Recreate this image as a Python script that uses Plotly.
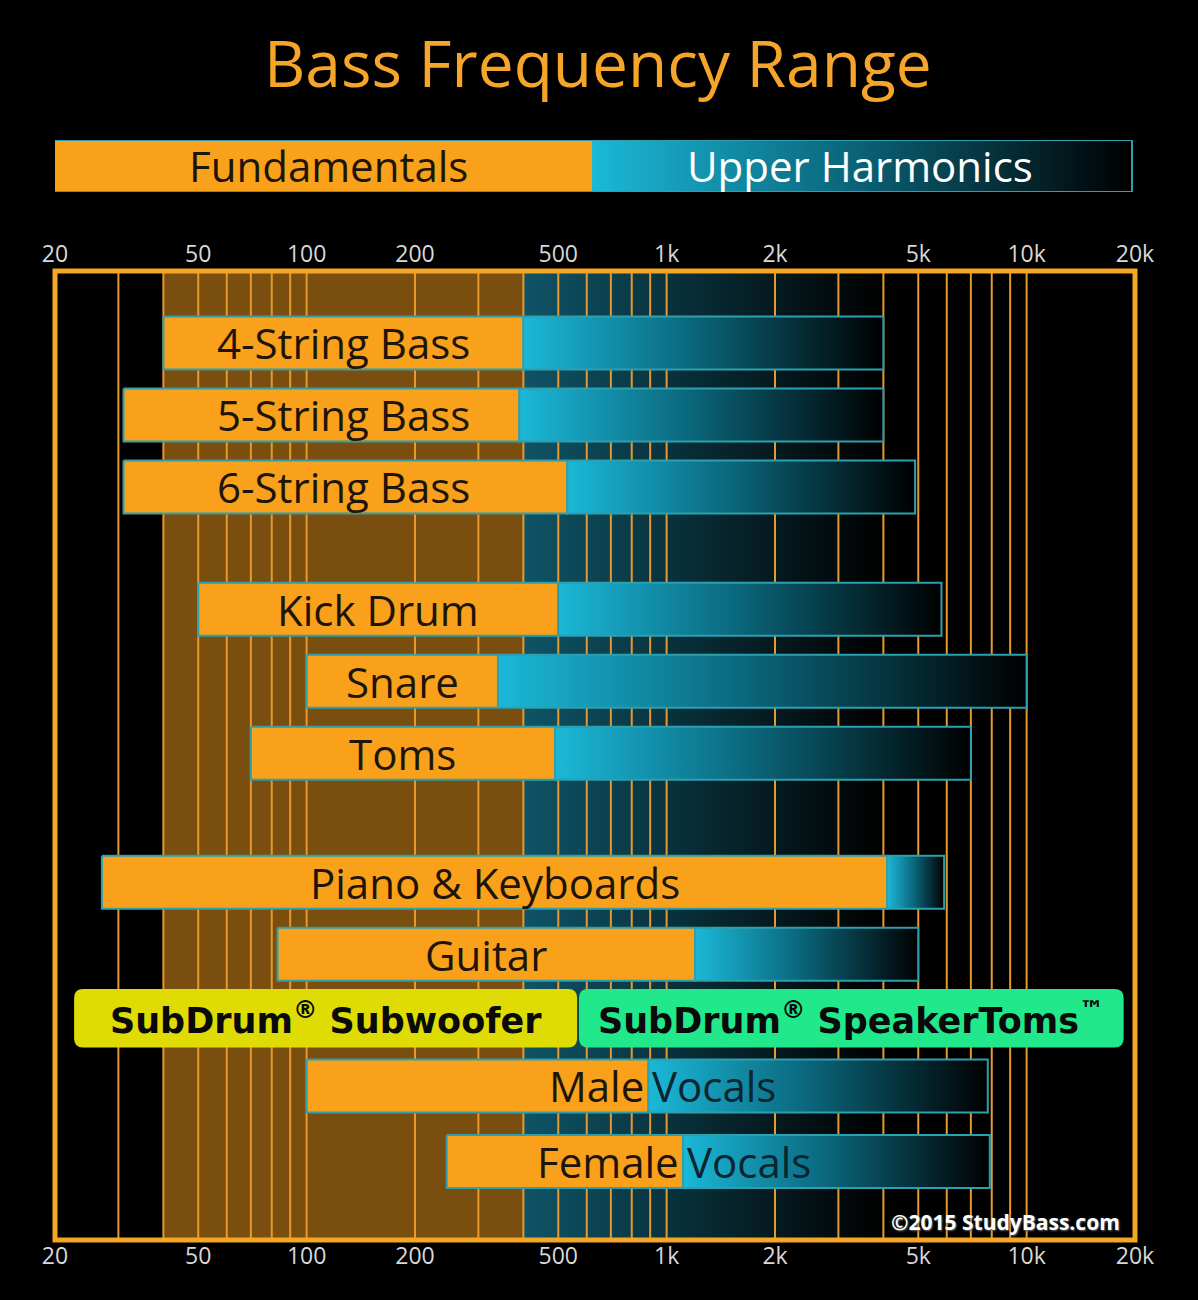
import numpy as np
import plotly.graph_objects as go

# instrument ranges in Hz: fundamentals from fund_low to fund_high, harmonics up to harm_high
instruments = ['4-String Bass', '5-String Bass', '6-String Bass', 'Kick Drum', 'Snare', 'Toms',
               'Piano & Keyboards', 'Guitar', 'Male Vocals', 'Female Vocals']
fund_low = [40, 31, 31, 50, 100, 70, 27, 83, 100, 245]
fund_high = [400, 390, 530, 500, 340, 490, 4100, 1200, 890, 1110]
harm_high = [4000, 4000, 4900, 5800, 10000, 7000, 5900, 5000, 7800, 7900]

tick_hz = [20, 50, 100, 200, 500, 1000, 2000, 5000, 10000, 20000]
tick_text = ['20', '50', '100', '200', '500', '1k', '2k', '5k', '10k', '20k']

bass_band = [40, 400]     # brown zone
fade_band = [400, 4000]   # teal zone fading to black

legend_text = ['Fundamentals', 'Upper Harmonics']

subdrum_names = ['SubDrum<sup>®</sup> Subwoofer', 'SubDrum<sup>®</sup> SpeakerToms<sup>™</sup>']
subdrum_lo = [22.6, 571]
subdrum_hi = [564, 18600]

ORANGE = '#F9A11B'
BROWN = '#7A4E0E'
CYAN = '#1BB8D8'
BG_TEAL = '#0F5466'
GRID = '#E8982C'
FRAME = '#F5A623'
EDGE = '#2E9FAE'
DARK = '#1E1509'
HARM_SCALE = [[0, CYAN], [0.45, '#0B6A80'], [1, '#000000']]

# vertical slots (rows grouped with gaps)
row_y = [1, 2, 3, 4.7, 5.7, 6.7, 8.49, 9.49, 11.32, 12.37]
subdrum_y = 10.38
half = 0.368
Y_BOTTOM, Y_TOP = 13.46, 0
LOGMIN, LOGMAX = np.log10(20), np.log10(20000)


def box(x0, x1, y0, y1):
    return [x0, x1, x1, x0, x0, None], [y0, y0, y1, y1, y0, None]


fig = go.Figure()

# background zones
bx, by = box(bass_band[0], bass_band[1], Y_TOP, Y_BOTTOM)
fig.add_trace(go.Scatter(x=bx, y=by, fill='toself', fillcolor=BROWN, mode='none', hoverinfo='skip'))
fx, fy = box(fade_band[0], fade_band[1], Y_TOP, Y_BOTTOM)
fig.add_trace(go.Scatter(x=fx, y=fy, fill='toself', mode='none', hoverinfo='skip',
                         fillgradient=dict(type='horizontal', colorscale=[[0, BG_TEAL], [1, '#000000']])))

# vertical frequency lines
grid_hz = [m * 10 ** e for e in range(1, 5) for m in range(1, 10) if 20 < m * 10 ** e <= 10000]
gx, gy = [], []
for f in grid_hz:
    gx += [f, f, None]
    gy += [Y_TOP, Y_BOTTOM, None]
fig.add_trace(go.Scatter(x=gx, y=gy, mode='lines', line=dict(color=GRID, width=2), hoverinfo='skip'))

# fundamentals (orange)
ox, oy = [], []
for lo, hi, y in zip(fund_low, fund_high, row_y):
    xs, ys = box(lo, hi, y - half, y + half)
    ox += xs
    oy += ys
fig.add_trace(go.Scatter(x=ox, y=oy, fill='toself', fillcolor=ORANGE, mode='lines',
                         line=dict(color=EDGE, width=2), hoverinfo='skip'))

# harmonics (teal fading to black), one trace per bar so each gets its own gradient
for hi, top, y in zip(fund_high, harm_high, row_y):
    xs, ys = box(hi, top, y - half, y + half)
    fig.add_trace(go.Scatter(x=xs, y=ys, fill='toself', mode='lines', line=dict(color=EDGE, width=2),
                             fillgradient=dict(type='horizontal', colorscale=HARM_SCALE), hoverinfo='skip'))

# dummy trace so the top axis is drawn
fig.add_trace(go.Scatter(x=[100], y=[Y_BOTTOM], xaxis='x2', yaxis='y', mode='markers',
                         marker=dict(opacity=0), hoverinfo='skip'))

# legend strip
split = 0.5
lx, ly = box(0, split, 0, 1)
fig.add_trace(go.Scatter(x=lx, y=ly, xaxis='x3', yaxis='y3', fill='toself', fillcolor=ORANGE,
                         mode='none', hoverinfo='skip'))
lx, ly = box(split, 1, 0, 1)
fig.add_trace(go.Scatter(x=lx, y=ly, xaxis='x3', yaxis='y3', fill='toself', mode='none', hoverinfo='skip',
                         fillgradient=dict(type='horizontal', colorscale=HARM_SCALE)))

annotations = []
shapes = []

# instrument labels
for i, (name, lo, hi, y) in enumerate(zip(instruments, fund_low, fund_high, row_y)):
    if name.endswith('Vocals'):
        first, second = name.split(' ')
        annotations.append(dict(x=np.log10(hi), y=y, xref='x', yref='y', text=first, showarrow=False,
                                xanchor='right', xshift=-2, font=dict(size=42, color=DARK)))
        annotations.append(dict(x=np.log10(hi), y=y, xref='x', yref='y', text=second, showarrow=False,
                                xanchor='left', xshift=2, font=dict(size=42, color='#0A2430')))
        continue
    if name.endswith('String Bass'):
        c = np.sqrt(fund_low[0] * fund_high[0])
    else:
        c = np.sqrt(lo * hi)
    annotations.append(dict(x=np.log10(c), y=y, xref='x', yref='y', text=name, showarrow=False,
                            font=dict(size=42, color=DARK)))


def rounded(x0, x1, y0, y1, rx, ry):
    return (f'M{x0 + rx},{y0} L{x1 - rx},{y0} Q{x1},{y0} {x1},{y0 + ry} L{x1},{y1 - ry} '
            f'Q{x1},{y1} {x1 - rx},{y1} L{x0 + rx},{y1} Q{x0},{y1} {x0},{y1 - ry} '
            f'L{x0},{y0 + ry} Q{x0},{y0} {x0 + rx},{y0} Z')


def xdom(f):
    return (np.log10(f) - LOGMIN) / (LOGMAX - LOGMIN)


def ydom(y):
    return 1 - (y - Y_TOP) / (Y_BOTTOM - Y_TOP)


# SubDrum boxes
for name, lo, hi, col in zip(subdrum_names, subdrum_lo, subdrum_hi, ['#DEDC04', '#22E88C']):
    y0, y1 = ydom(subdrum_y + 0.405), ydom(subdrum_y - 0.405)
    shapes.append(dict(type='path', xref='x domain', yref='y domain',
                       path=rounded(xdom(lo), xdom(hi), y0, y1, 9 / 1080, 9 / 969),
                       fillcolor=col, line=dict(width=0), layer='above'))
    annotations.append(dict(x=np.log10(np.sqrt(lo * hi)), y=subdrum_y, xref='x', yref='y', text=name,
                            showarrow=False, font=dict(family='DejaVu Sans', size=35, color='#0A0A0A',
                                                       weight='bold')))

# frame
shapes.append(dict(type='rect', xref='x domain', yref='y domain', x0=0, x1=1, y0=0, y1=1,
                   line=dict(color=FRAME, width=5), layer='above'))
shapes.append(dict(type='rect', xref='x3', yref='y3', x0=0, x1=1, y0=0, y1=1,
                   line=dict(color=EDGE, width=2), layer='above'))

annotations.append(dict(x=0.2556, y=0.5, xref='x3', yref='y3', text=legend_text[0], showarrow=False,
                        font=dict(size=42, color=DARK)))
annotations.append(dict(x=0.748, y=0.5, xref='x3', yref='y3', text=legend_text[1], showarrow=False,
                        font=dict(size=42, color='white')))

annotations.append(dict(x=0.503, y=0.95, xref='paper', yref='paper', text='Bass Frequency Range',
                        showarrow=False, xanchor='center', yanchor='middle',
                        font=dict(size=64, color='#F5A52A')))
annotations.append(dict(x=0.988, y=0.0145, xref='paper', yref='paper', text='©2015 StudyBass.com',
                        showarrow=False, xanchor='right', yanchor='middle',
                        font=dict(size=21, color='white', weight='bold', shadow='1px 1px 2px #666')))

axis_common = dict(type='log', range=[LOGMIN, LOGMAX], tickvals=tick_hz, ticktext=tick_text,
                   showgrid=False, zeroline=False, showline=False, ticks='',
                   tickfont=dict(size=23, color='#D8D8D8'))

fig.update_layout(
    width=1198, height=1300,
    margin=dict(l=55, r=63, t=0, b=60),
    paper_bgcolor='black', plot_bgcolor='black',
    showlegend=False,
    font=dict(family='Open Sans', color='#DCDCDC'),
    xaxis=dict(axis_common, anchor='y', domain=[0, 1]),
    xaxis2=dict(axis_common, anchor='y', overlaying='x', side='top', ticklabelstandoff=3),
    yaxis=dict(range=[Y_BOTTOM, Y_TOP], domain=[0, 0.78145], visible=False),
    xaxis3=dict(domain=[0, 1], range=[0.00278, 1.00278], visible=False, anchor='y3'),
    yaxis3=dict(domain=[0.84516, 0.8871], range=[0, 1], visible=False, anchor='x3'),
    annotations=annotations,
    shapes=shapes,
)

fig.write_html("out.html", config={'displayModeBar': False},
               post_script="document.body.style.margin='0';document.body.style.background='black';")
